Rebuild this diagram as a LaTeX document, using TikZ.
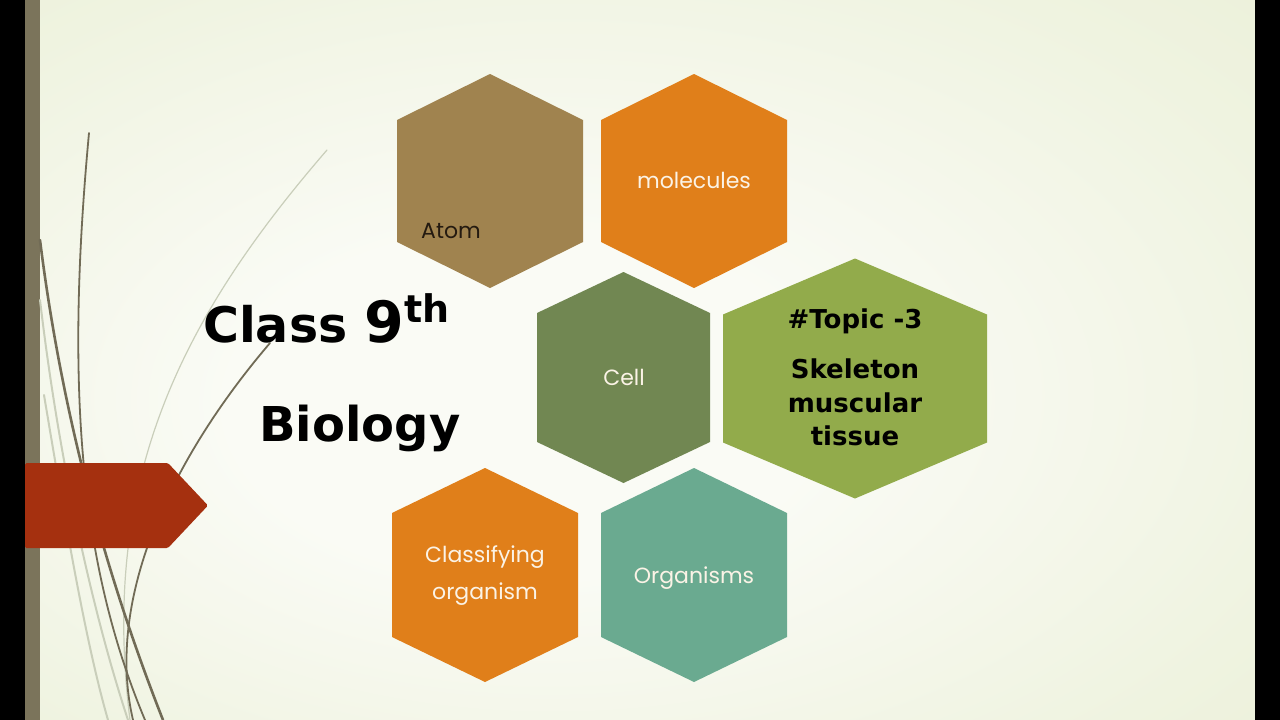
\documentclass[tikz,border=0pt]{standalone}
\usepackage{fontspec}
\usepackage{tikz}
\usetikzlibrary{positioning,calc}
\newfontfamily\hexfont{Poppins}
\newfontfamily\headfont{DejaVu Sans}
\definecolor{bgin}      {HTML}{FAFBF5}
\definecolor{bgmid}     {HTML}{EFF3E0}
\definecolor{bgout}     {HTML}{E5ECCD}
\definecolor{barbrown}  {HTML}{7B745B}
\definecolor{arrowred}  {HTML}{A5300F}
\definecolor{grassdark} {HTML}{716B56}
\definecolor{grasspale} {HTML}{C9CEBA}
\definecolor{atomfill}  {HTML}{A0834F}
\definecolor{orangefill}{HTML}{E07F1A}
\definecolor{cellfill}  {HTML}{718752}
\definecolor{topicfill} {HTML}{92AB4B}
\definecolor{tealfill}  {HTML}{6AAA90}
\definecolor{cream}     {HTML}{FBF3E6}
\definecolor{atomink}   {HTML}{241A10}
\pgfdeclareradialshading{backdrop}{\pgfpoint{-6bp}{-4bp}}{%
  color(0bp)=(bgin); color(12bp)=(bgin); color(32bp)=(bgmid); color(54bp)=(bgout)}
\tikzset{
  % --- text
  hexlbl/.style   = {font=\hexfont\fontsize{22}{22}\selectfont, text=cream,
                     anchor=base, inner sep=0pt},
  headlbl/.style  = {font=\headfont\bfseries, text=black, anchor=base west, inner sep=0pt},
  topiclbl/.style = {font=\headfont\bfseries\fontsize{26}{26}\selectfont, text=black,
                     anchor=base, inner sep=0pt},
  % --- grass strokes
  grass/.style    = {draw=grassdark, line width=2.6pt, line cap=round},
  grassthin/.style= {draw=grassdark, line width=1.8pt, line cap=round},
  grasslite/.style= {draw=grasspale, line width=2pt, line cap=round},
}

\begin{document}
\begin{tikzpicture}[x=1pt,y=-1pt]
  \useasboundingbox (0,0) rectangle (1280,720);
  % backdrop
  \shade[shading=backdrop] (25,0) rectangle (1255,720);
  \fill[black] (0,0) rectangle (25,720);
  \fill[black] (1255,0) rectangle (1280,720);
  \fill[barbrown] (25,0) rectangle (40,720);

  % grass
  \draw[grasslite, line width=1.2pt] (327,150) .. controls (180,320) and (100,480) .. (130,720);
  \draw[grasslite] (44,395) .. controls (65,520) and (85,640) .. (108,720);
  \draw[grasslite] (40,300) .. controls (60,470) and (95,620) .. (128,720);
  \draw[grassthin] (89,133) .. controls (66,380) and (78,560) .. (145,720);
  \draw[grass] (40,240) .. controls (60,400) and (100,560) .. (163,720);
  \draw[grassthin] (270,343) .. controls (170,460) and (105,600) .. (133,720);

  % red pointer
  \fill[arrowred, rounded corners=1.5pt]
    (25,463) -- (168,463) -- (208,505.5) -- (168,548) -- (25,548) -- cycle;

  % title
  \node[headlbl] (cls) at (203,342)
    {\fontsize{49}{49}\selectfont Class \fontsize{57}{57}\selectfont 9\raisebox{20pt}{\fontsize{38}{38}\selectfont th}};
  \node[headlbl, font=\headfont\bfseries\fontsize{48}{48}\selectfont] (bio) at (259,441) {Biology};

  % hexagons: centre x, centre y, half width, half height, corner drop, colour
  \newcommand{\hexcell}[6]{\fill[#6] (#1-#3,#2-#4+#5) -- (#1,#2-#4) -- (#1+#3,#2-#4+#5)
    -- (#1+#3,#2+#4-#5) -- (#1,#2+#4) -- (#1-#3,#2+#4-#5) -- cycle;}

  \hexcell{490}{181}{93}{107}{46}{atomfill}
  \hexcell{694}{181}{93}{107}{46}{orangefill}
  \hexcell{623.5}{377.5}{86.5}{105.5}{41}{cellfill}
  \hexcell{855}{378.5}{132}{120}{56}{topicfill}
  \hexcell{485}{575}{93}{107}{45}{orangefill}
  \hexcell{694}{575}{93}{107}{45}{tealfill}

  % labels
  \node[hexlbl, text=atomink] (atom) at (451,238) {Atom};
  \node[hexlbl] (molec) at (694,188) {molecules};
  \node[hexlbl] (cell) at (624,385) {Cell};
  \node[hexlbl] (classa) at (485,562) {Classifying};
  \node[hexlbl] (classb) at (485,599) {organism};
  \node[hexlbl] (organ) at (694,583) {Organisms};

  \node[topiclbl] (topic) at (855,328) {\#Topic -3};
  \node[topiclbl] (skel) at (855,378) {Skeleton};
  \node[topiclbl] (musc) at (855,412) {muscular};
  \node[topiclbl] (tiss) at (855,445) {tissue};
\end{tikzpicture}
\end{document}
